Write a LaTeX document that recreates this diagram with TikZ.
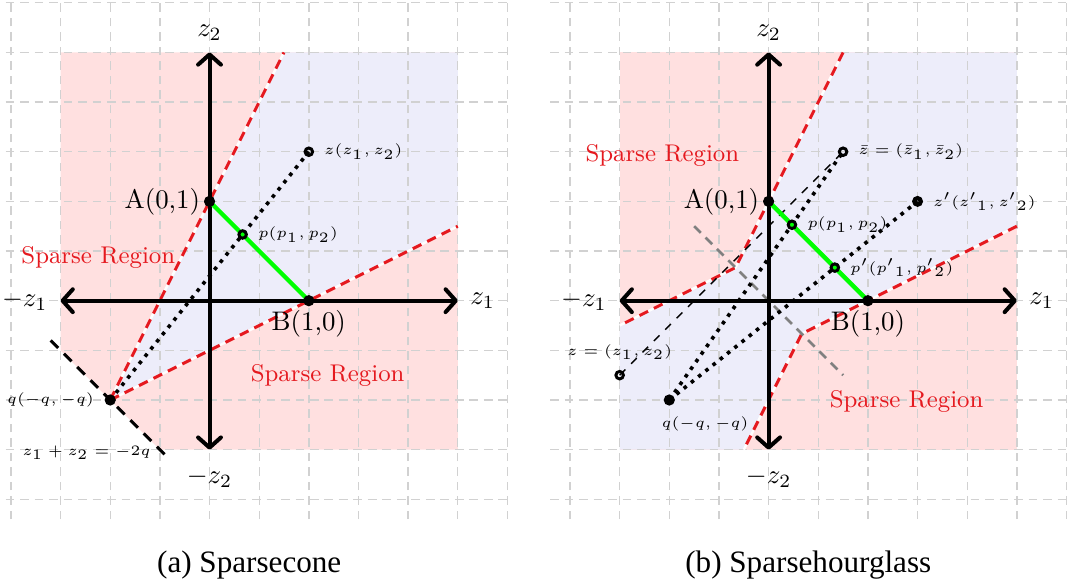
\documentclass[tikz,border=0pt]{standalone}
\usepackage{fontspec}
\newfontfamily\capfont{Liberation Serif}
\usetikzlibrary{arrows.meta}
\definecolor{pinkbg}{rgb}{1,0.878,0.878}
\definecolor{bluebg}{rgb}{0.929,0.929,0.98}
\definecolor{gridc}{rgb}{0.82,0.82,0.82}
\definecolor{sparsered}{rgb}{0.9,0.1,0.12}
\begin{document}
\begin{tikzpicture}[x=1.3cm,y=1.3cm,
  gridline/.style={gridc, line width=0.5pt, dash pattern=on 3.2pt off 2.2pt},
  bound/.style={sparsered, line width=1.1pt, dash pattern=on 3.6pt off 2.4pt},
  boundunder/.style={white, line width=0.9pt},
  axisline/.style={line width=1.5pt, {Straight Barb[length=3.8pt,width=8.5pt,round]}-{Straight Barb[length=3.8pt,width=8.5pt,round]}},
  simplex/.style={green, line width=1.6pt},
  ray/.style={black, line width=1.35pt, dash pattern=on 1.35pt off 2.1pt},
  thindash/.style={black, line width=0.5pt, dash pattern=on 3pt off 3pt},
  graydash/.style={gray, line width=1pt, dash pattern=on 3.5pt off 2.5pt},
  fulldot/.style={circle, fill=black, inner sep=0pt, minimum size=4.2pt},
  ringdot/.style={circle, draw=black, line width=1.1pt, inner sep=0pt, minimum size=2.8pt},
  fatring/.style={circle, draw=black, line width=1.6pt, inner sep=0pt, minimum size=2.4pt},
  biglab/.style={font=\fontsize{10}{12}\selectfont},
  axlab/.style={font=\fontsize{10}{12}\selectfont},
  regionlab/.style={text=sparsered, font=\fontsize{9}{11}\selectfont},
  smalllab/.style={font=\tiny, scale=1.07},
  caplab/.style={font=\capfont\fontsize{11.6}{13}\selectfont, anchor=base}]
\useasboundingbox (-2.11,-2.793) rectangle (8.645,3.028);

% ================= LEFT PANEL: Sparsecone =================
\begin{scope}
  \coordinate (LA) at (0,1);
  \coordinate (LB) at (1,0);
  \coordinate (Lq) at (-1,-1);
  \coordinate (Lz) at (1,1.5);
  \coordinate (Lp) at (1/3,2/3);
  \coordinate (Ltop) at (0.75,2.5);
  \coordinate (Lrt) at (2.5,0.75);
  \coordinate (Lxl) at (-1.5,0);
  \coordinate (Lxr) at (2.5,0);
  \coordinate (Lyb) at (0,-1.5);
  \coordinate (Lyt) at (0,2.5);
  \coordinate (Lh1) at (-1.6,-0.4);
  \coordinate (Lh2) at (-0.4,-1.6);
  \fill[pinkbg] (-1.5,2.5) -- (2.5,2.5) -- (2.5,-1.5) -- (-0.5,-1.5) -- (-1.5,-0.5) -- cycle;
  \fill[bluebg] (Lq) -- (Ltop) -- (2.5,2.5) -- (Lrt) -- cycle;
  \foreach \x in {-2,-1.5,...,3} \draw[gridline] (\x,-2.2) -- (\x,3.1);
  \foreach \y in {-2,-1.5,...,3} \draw[gridline] (-2.2,\y) -- (3.05,\y);
  \draw[boundunder] (Lq) -- (Ltop);
  \draw[boundunder] (Lq) -- (Lrt);
  \draw[bound] (Lq) -- (Ltop);
  \draw[bound] (Lq) -- (Lrt);
  \draw[black, line width=1.1pt, dash pattern=on 4pt off 3pt] (Lh1) -- (Lh2);
  \draw[ray] (Lq) -- (Lz);
  \draw[axisline] (Lxl) -- (Lxr);
  \draw[axisline] (Lyb) -- (Lyt);
  \draw[simplex] (LA) -- (LB);
  \node[fulldot] (LAd) at (LA) {};
  \node[fulldot] (LBd) at (LB) {};
  \node[fulldot] (Lqd) at (Lq) {};
  \node[ringdot] (Lzd) at (Lz) {};
  \node[ringdot] (Lpd) at (Lp) {};
  \node[biglab, left] (LAl) at (LA) {A(0,1)};
  \node[biglab, below] (LBl) at (LB) {B(1,0)};
  \node[smalllab, right] (Lzl) at (Lzd.east) {$z(z_1,z_2)$};
  \node[smalllab, right] (Lpl) at (Lpd.east) {$p(p_1,p_2)$};
  \node[smalllab, left] (Lql) at (Lqd.west) {$q(-q,-q)$};
  \node[smalllab] (Lhl) at (-1.24,-1.53) {$z_1+z_2=-2q$};
  \node[axlab] (Lz2) at (0,2.7) {$z_2$};
  \node[axlab] (Lmz2) at (0,-1.78) {$-z_2$};
  \node[axlab] (Lmz1) at (-1.86,0) {$-z_1$};
  \node[axlab] (Lz1) at (2.75,0) {$z_1$};
  \node[regionlab] (Lr1) at (-1.12,0.44) {Sparse Region};
  \node[regionlab] (Lr2) at (1.19,-0.755) {Sparse Region};
  \node[caplab] (capa) at (0.40,-2.74) {(a) Sparsecone};
\end{scope}

% ================= RIGHT PANEL: Sparsehourglass =================
\begin{scope}[shift={(5.63,0)}]
  \coordinate (RA) at (0,1);
  \coordinate (RB) at (1,0);
  \coordinate (Rq) at (-1,-1);
  \coordinate (Rz) at (-1.5,-0.75);
  \coordinate (Rzb) at (0.75,1.5);
  \coordinate (Rzp) at (1.5,1);
  \coordinate (Rp) at (4/17,13/17);
  \coordinate (Rpp) at (2/3,1/3);
  \coordinate (Rtop) at (0.75,2.5);
  \coordinate (Rk1) at (-1/3,1/3);
  \coordinate (Rl1) at (-1.5,-0.25);
  \coordinate (Rrt) at (2.5,0.75);
  \coordinate (Rk2) at (1/3,-1/3);
  \coordinate (Rb2) at (-0.25,-1.5);
  \coordinate (Rg1) at (-0.75,0.75);
  \coordinate (Rg2) at (0.75,-0.75);
  \coordinate (Rxl) at (-1.5,0);
  \coordinate (Rxr) at (2.5,0);
  \coordinate (Ryb) at (0,-1.5);
  \coordinate (Ryt) at (0,2.5);
  \fill[pinkbg] (-1.5,-1.5) rectangle (2.5,2.5);
  \fill[bluebg] (Rtop) -- (2.5,2.5) -- (Rrt) -- (RB) -- (Rk2) -- (Rb2) -- (-1.5,-1.5) -- (Rl1) -- (Rk1) -- (RA) -- cycle;
  \foreach \x in {-2,-1.5,...,3} \draw[gridline] (\x,-2.2) -- (\x,3.1);
  \foreach \y in {-2,-1.5,...,3} \draw[gridline] (-2.2,\y) -- (3.1,\y);
  \draw[boundunder] (Rtop) -- (RA) -- (Rk1) -- (Rl1);
  \draw[boundunder] (Rrt) -- (RB) -- (Rk2) -- (Rb2);
  \draw[bound] (Rtop) -- (RA) -- (Rk1) -- (Rl1);
  \draw[bound] (Rrt) -- (RB) -- (Rk2) -- (Rb2);
  \draw[graydash] (Rg1) -- (Rg2);
  \draw[thindash] (Rz) -- (Rzb);
  \draw[ray] (Rq) -- (Rzb);
  \draw[ray] (Rq) -- (Rzp);
  \draw[axisline] (Rxl) -- (Rxr);
  \draw[axisline] (Ryb) -- (Ryt);
  \draw[simplex] (RA) -- (RB);
  \node[fulldot] (RAd) at (RA) {};
  \node[fulldot] (RBd) at (RB) {};
  \node[fulldot] (Rqd) at (Rq) {};
  \node[fatring] (Rzpd) at (Rzp) {};
  \node[ringdot] (Rzd) at (Rz) {};
  \node[ringdot] (Rzbd) at (Rzb) {};
  \node[ringdot] (Rpd) at (Rp) {};
  \node[ringdot] (Rppd) at (Rpp) {};
  \node[biglab, left] (RAl) at (RA) {A(0,1)};
  \node[biglab, below] (RBl) at (RB) {B(1,0)};
  \node[smalllab, right] (Rzbl) at (Rzbd.east) {$\bar{z}=(\bar{z}_1,\bar{z}_2)$};
  \node[smalllab, right] (Rzpl) at (Rzpd.east) {$z'({z'}_1,{z'}_2)$};
  \node[smalllab, right] (Rpl) at (Rpd.east) {$p(p_1,p_2)$};
  \node[smalllab, right] (Rppl) at (Rppd.east) {$p'({p'}_1,{p'}_2)$};
  \node[smalllab, above] (Rzl) at (Rzd.north) {$z=(z_1,z_2)$};
  \node[smalllab] (Rql) at (-0.64,-1.24) {$q(-q,-q)$};
  \node[axlab] (Rz2) at (0,2.7) {$z_2$};
  \node[axlab] (Rmz2) at (0,-1.78) {$-z_2$};
  \node[axlab] (Rmz1) at (-1.86,0) {$-z_1$};
  \node[axlab] (Rz1) at (2.75,0) {$z_1$};
  \node[regionlab] (Rr1) at (-1.07,1.46) {Sparse Region};
  \node[regionlab] (Rr2) at (1.39,-1.01) {Sparse Region};
  \node[caplab] (capb) at (0.40,-2.74) {(b) Sparsehourglass};
\end{scope}
\end{tikzpicture}
\end{document}
